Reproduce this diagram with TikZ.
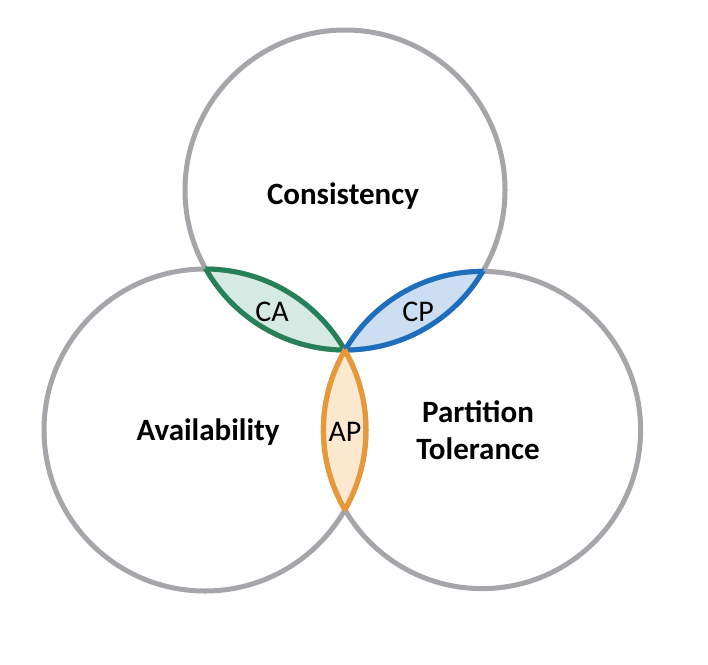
\documentclass[tikz,border=0pt]{standalone}
\usepackage{fontspec}
\setmainfont{Carlito}
\definecolor{cgray}{RGB}{165,165,170}
\definecolor{cgreen}{RGB}{38,128,90}
\definecolor{fgreen}{RGB}{212,234,226}
\definecolor{cblue}{RGB}{30,110,190}
\definecolor{fblue}{RGB}{204,222,242}
\definecolor{corange}{RGB}{232,152,52}
\definecolor{forange}{RGB}{252,232,206}
\tikzset{big/.style={font=\bfseries\fontsize{31}{37}\selectfont,align=center},
small/.style={font=\fontsize{30}{34}\selectfont}}
\begin{document}
\begin{tikzpicture}[x=1pt,y=-1pt]
\useasboundingbox (0,0) rectangle (708,664);
\def\T{(345,190) circle[radius=160pt]}
\def\L{(205,430) circle[radius=161pt]}
\def\R{(482,430) circle[radius=158.6pt]}
% fills
\begin{scope}\clip \T; \fill[fgreen] \L; \end{scope}
\begin{scope}\clip \T; \fill[fblue] \R; \end{scope}
\begin{scope}\clip \L; \fill[forange] \R; \end{scope}
\draw[cgray,line width=5pt] \T; \draw[cgray,line width=5pt] \L; \draw[cgray,line width=5pt] \R;
\begin{scope}\clip \T; \draw[cgreen,line width=5pt] \L; \end{scope}
\begin{scope}\clip \L; \draw[cgreen,line width=5pt] \T; \end{scope}
\begin{scope}\clip \T; \draw[cblue,line width=5pt] \R; \end{scope}
\begin{scope}\clip \R; \draw[cblue,line width=5pt] \T; \end{scope}
\begin{scope}\clip \L; \draw[corange,line width=5pt] \R; \end{scope}
\begin{scope}\clip \R; \draw[corange,line width=5pt] \L; \end{scope}
\node[big] (c) at (343,196) {Consistency};
\node[big] (a) at (208,432) {Availability};
\node[big] (p) at (478,430) {Partition\\Tolerance};
\node[small] (ca) at (272,312) {CA};
\node[small] (cp) at (418,312) {CP};
\node[small] (ap) at (345,432) {AP};
\end{tikzpicture}
\end{document}
